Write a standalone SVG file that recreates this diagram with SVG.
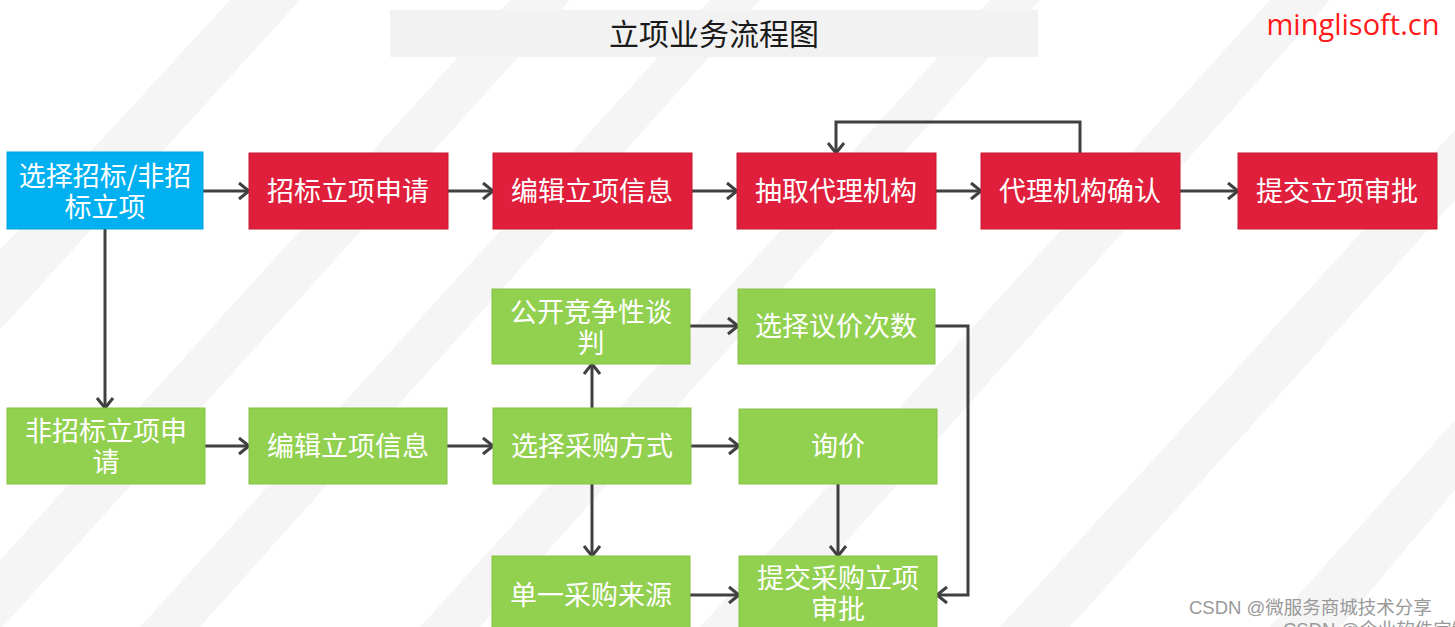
<svg xmlns="http://www.w3.org/2000/svg" width="1455" height="627" viewBox="0 0 1455 627">
<defs>
<style>
.bg{fill:#f5f5f5;}
.n text{font-family:"Noto Sans CJK SC","Noto Sans",sans-serif;font-size:27px;fill:#ffffff;text-anchor:middle;}
.red rect{fill:#df1f3b;stroke:#c81a33;stroke-width:1;}
.grn rect{fill:#92d050;stroke:#86c246;stroke-width:1;}
.blu rect{fill:#00b0f0;stroke:#00a2de;stroke-width:1;}
.c path{fill:none;stroke:#404040;stroke-width:3;marker-end:url(#ah);}
</style>
<marker id="ah" markerUnits="userSpaceOnUse" markerWidth="20" markerHeight="20" viewBox="0 0 20 20" refX="16" refY="10" orient="auto">
<path d="M6,2 L16,10 L6,18" fill="none" stroke="#404040" stroke-width="3"/>
</marker>
</defs>
<rect width="1455" height="627" fill="#ffffff"/>
<g id="background">
<polygon class="bg" points="0,250 230,0 300,0 0,330"/>
<polygon class="bg" points="0,560 510,0 570,0 0,630"/>
<polygon class="bg" points="140,627 710,0 760,0 200,627"/>
<polygon class="bg" points="420,627 990,0 1040,0 480,627"/>
<polygon class="bg" points="700,627 1270,0 1330,0 770,627"/>
<polygon class="bg" points="1000,627 1455,130 1455,200 1070,627"/>
<polygon class="bg" points="1270,627 1455,420 1455,490 1340,627"/>
</g>
<g id="title">
<rect x="390" y="10" width="648" height="47" fill="#f2f2f2"/>
<text x="714" y="45" font-family="Noto Sans CJK SC,sans-serif" font-size="30" fill="#1a1a1a" text-anchor="middle">立项业务流程图</text>
</g>
<text id="logo" x="1353" y="35" font-family="Open Sans,Noto Sans,sans-serif" font-size="29" fill="#ff1a1a" text-anchor="middle">minglisoft.cn</text>
<g class="c" id="connectors">
<path d="M203,191 L249,191"/>
<path d="M448,191 L493,191"/>
<path d="M692,191 L737,191"/>
<path d="M936,191 L981,191"/>
<path d="M1180,191 L1238,191"/>
<path d="M1080,153 L1080,122 L836,122 L836,153"/>
<path d="M105,229 L105,408"/>
<path d="M205,446 L249,446"/>
<path d="M447,446 L493,446"/>
<path d="M691,446 L739,446"/>
<path d="M592,408 L592,364"/>
<path d="M690,326 L738,326"/>
<path d="M935,326 L968,326 L968,595 L937,595"/>
<path d="M592,484 L592,556"/>
<path d="M838,484 L838,556"/>
<path d="M690,595 L739,595"/>
</g>
<g id="n1" class="n blu"><rect x="7" y="152" width="196" height="77"/><text x="105" y="186">选择招标/非招</text><text x="105" y="217">标立项</text></g>
<g id="n2" class="n red"><rect x="249" y="153" width="199" height="76"/><text x="348" y="201">招标立项申请</text></g>
<g id="n3" class="n red"><rect x="493" y="153" width="199" height="76"/><text x="592" y="201">编辑立项信息</text></g>
<g id="n4" class="n red"><rect x="737" y="153" width="199" height="76"/><text x="836" y="201">抽取代理机构</text></g>
<g id="n5" class="n red"><rect x="981" y="153" width="199" height="76"/><text x="1080" y="201">代理机构确认</text></g>
<g id="n6" class="n red"><rect x="1238" y="153" width="199" height="76"/><text x="1337" y="201">提交立项审批</text></g>
<g id="n7" class="n grn"><rect x="7" y="408" width="198" height="76"/><text x="106" y="441">非招标立项申</text><text x="106" y="472">请</text></g>
<g id="n8" class="n grn"><rect x="249" y="408" width="198" height="76"/><text x="348" y="456">编辑立项信息</text></g>
<g id="n9" class="n grn"><rect x="493" y="408" width="198" height="76"/><text x="592" y="456">选择采购方式</text></g>
<g id="n10" class="n grn"><rect x="492" y="289" width="198" height="75"/><text x="591" y="322">公开竞争性谈</text><text x="591" y="353">判</text></g>
<g id="n11" class="n grn"><rect x="738" y="289" width="197" height="75"/><text x="836" y="336">选择议价次数</text></g>
<g id="n12" class="n grn"><rect x="739" y="409" width="198" height="75"/><text x="838" y="456">询价</text></g>
<g id="n13" class="n grn"><rect x="492" y="556" width="198" height="80"/><text x="591" y="605">单一采购来源</text></g>
<g id="n14" class="n grn"><rect x="739" y="556" width="198" height="80"/><text x="838" y="588">提交采购立项</text><text x="838" y="619">审批</text></g>
<g id="watermark" font-family="Liberation Sans,Noto Sans CJK SC,sans-serif" font-size="18.5" fill="#999999">
<text x="1189" y="614">CSDN @微服务商城技术分享</text>
<text x="1283" y="636">CSDN @企业软件定制</text>
</g>
</svg>
